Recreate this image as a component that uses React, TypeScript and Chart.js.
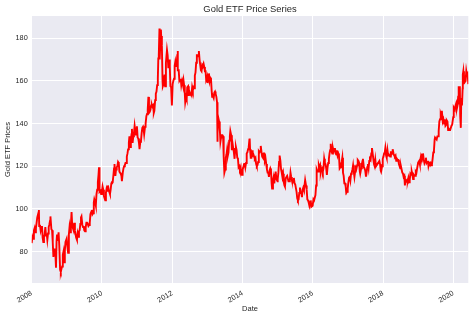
import React, { useEffect, useRef } from "react";
import { Chart, registerables } from "chart.js";

Chart.register(...registerables);

// Gold ETF closing prices (approx. weekly readings), [month-day, price]
const gld2008: [string, number][] = [["01-02",84],["01-10",87],["01-18",86],["01-25",90],["02-01",91],["02-08",89],["02-15",91],["02-22",93.5],["02-29",96],["03-07",96],["03-14",98.5],["03-17",99.5],["03-20",92],["03-28",92.5],["04-04",90],["04-11",91.5],["04-18",92],["04-25",86.5],["05-02",84.5],["05-09",87],["05-16",88],["05-23",91.5],["05-30",87.5],["06-06",88.5],["06-13",85.5],["06-20",88.5],["06-27",91.5],["07-03",92.5],["07-11",94.5],["07-15",96.5],["07-25",90.5],["08-01",90],["08-08",84.5],["08-15",77.5],["08-22",81],["08-29",81.5],["09-05",78.5],["09-11",72.5],["09-17",85],["09-22",88],["09-30",85],["10-08",89],["10-15",83],["10-24",71.5],["10-31",70.5],["11-07",72],["11-14",73],["11-21",78.5],["11-28",80],["12-05",75],["12-12",80.5],["12-19",84.5],["12-31",86]];
const gld2009: [string, number][] = [["01-02",86],["01-09",82],["01-15",79.5],["01-23",88],["01-30",91.5],["02-06",89],["02-13",92.5],["02-20",98.5],["02-27",92],["03-06",92],["03-13",90],["03-19",93.5],["03-27",90],["04-03",88],["04-09",86.5],["04-17",85.5],["04-24",88.5],["05-01",87],["05-08",89.5],["05-15",90],["05-22",93],["05-29",96],["06-03",96.5],["06-12",92.5],["06-19",91.5],["06-26",92],["07-02",90],["07-10",89.5],["07-17",91.5],["07-24",93.5],["07-31",93.5],["08-07",93],["08-14",92],["08-21",92.5],["08-28",93.5],["09-04",97.5],["09-11",98.5],["09-18",99.5],["09-25",97.5],["10-02",98],["10-09",103],["10-14",104.5],["10-23",103],["10-30",101.5],["11-06",107],["11-13",109],["11-20",112.5],["11-27",116],["12-02",119.5],["12-04",113.5],["12-11",108],["12-18",108.5],["12-24",107],["12-31",107.5]];
const gld2010: [string, number][] = [["01-08",110.5],["01-15",109],["01-22",106],["01-29",105],["02-05",104],["02-12",107.5],["02-19",109.5],["02-26",108.5],["03-05",111],["03-12",109],["03-19",108],["03-26",107],["04-02",109],["04-09",112],["04-16",112.5],["04-23",112.5],["04-30",115.5],["05-07",119],["05-12",121],["05-21",115.5],["05-28",118.5],["06-04",119.5],["06-11",120],["06-18",122],["06-25",121.5],["07-02",117.5],["07-09",117],["07-16",116.5],["07-23",115.5],["07-28",113],["08-06",117],["08-13",119],["08-20",120],["08-27",120.5],["09-03",121.5],["09-10",121.5],["09-17",124.5],["09-24",126],["09-30",127.9],["10-08",131],["10-14",134],["10-22",129],["10-29",132.5],["11-05",135],["11-09",137.5],["11-16",131],["11-23",134],["11-30",135.5],["12-07",139],["12-14",136.5],["12-21",134.5],["12-31",138.7]];
const gld2011: [string, number][] = [["01-07",133.5],["01-14",133],["01-21",131],["01-27",128],["02-04",131.5],["02-11",132],["02-18",135.5],["02-25",138],["03-04",138.5],["03-11",137],["03-16",135],["03-25",138.5],["03-31",140],["04-08",143.5],["04-15",144.5],["04-22",146.5],["04-29",152.5],["05-05",145],["05-13",145.5],["05-20",146.5],["05-27",148.5],["06-03",149],["06-10",148],["06-17",148.5],["06-24",145],["06-30",146],["07-08",151],["07-15",154],["07-22",155],["07-29",158],["08-05",161],["08-10",170.5],["08-15",172],["08-22",184.5],["08-24",170],["08-31",177.5],["09-06",184],["09-09",181],["09-16",176.5],["09-23",160],["09-26",157.5],["09-30",158],["10-07",160],["10-14",163],["10-20",157.5],["10-28",168.5],["11-08",174.5],["11-15",172],["11-22",166],["11-30",170],["12-07",167],["12-14",157.5],["12-21",157],["12-29",148.5]];
const gld2012: [string, number][] = [["01-06",158.5],["01-13",160],["01-20",161],["01-27",167],["02-03",169],["02-10",167],["02-17",168],["02-24",172.5],["02-28",174],["02-29",165],["03-09",165],["03-16",160],["03-23",160.5],["03-30",161],["04-05",158],["04-13",160],["04-20",158.5],["04-27",160.5],["05-04",158],["05-11",154.5],["05-16",150],["05-25",152.5],["05-31",151.5],["06-06",157],["06-15",157.5],["06-22",153],["06-29",155],["07-06",154],["07-13",153.5],["07-20",153.5],["07-27",157],["08-03",155.5],["08-10",157],["08-17",156.5],["08-24",162.5],["08-31",164],["09-07",168.5],["09-14",172],["09-21",172],["09-28",171.5],["10-05",174],["10-12",170],["10-19",167.5],["10-26",165],["11-02",164.5],["11-09",167.5],["11-16",167],["11-23",168],["11-30",166.5],["12-07",164.5],["12-14",164.5],["12-20",160.5],["12-31",162]];
const gld2013: [string, number][] = [["01-04",159],["01-11",161],["01-18",163.5],["01-25",160],["02-01",161.5],["02-08",161],["02-15",155.5],["02-20",152.5],["02-28",153],["03-08",152],["03-15",154.5],["03-22",155],["03-28",154],["04-05",152.5],["04-12",150],["04-15",131.5],["04-19",135.5],["04-26",142.5],["05-03",141],["05-10",138],["05-17",131.5],["05-24",133.5],["05-31",134.5],["06-07",134.5],["06-14",134],["06-20",124.5],["06-27",117],["07-05",118.5],["07-12",124],["07-19",125.5],["07-26",128],["08-02",125],["08-09",126.5],["08-16",132],["08-23",134],["08-28",136.5],["09-06",134.5],["09-13",127.5],["09-19",131],["09-27",128.5],["10-04",126.5],["10-11",123.5],["10-18",128],["10-25",129],["11-01",127.5],["11-08",124],["11-15",123.5],["11-22",119.5],["11-29",120],["12-06",118.5],["12-13",119.5],["12-19",116],["12-31",116]];
const gld2014: [string, number][] = [["01-03",118.5],["01-10",119.5],["01-17",121],["01-24",121.5],["01-31",119.5],["02-07",121.5],["02-14",126],["02-21",126.5],["02-28",128],["03-07",129],["03-14",132.5],["03-17",133],["03-21",128],["03-28",124],["04-04",124],["04-11",127.5],["04-17",125],["04-25",125.5],["05-02",124.5],["05-09",123.5],["05-16",124],["05-23",121],["05-30",120],["06-06",120.5],["06-13",122],["06-20",127],["06-27",126.5],["07-03",127],["07-10",129.5],["07-18",126.5],["07-25",124.5],["08-01",124],["08-08",126],["08-15",126],["08-22",122.5],["08-29",123.5],["09-05",121],["09-12",118.5],["09-19",117],["09-26",117],["10-03",115],["10-10",118],["10-17",119],["10-24",118],["10-31",112],["11-05",109.5],["11-14",113.5],["11-21",115],["11-28",112],["12-05",116],["12-12",117.5],["12-19",114],["12-31",113]];
const gld2015: [string, number][] = [["01-02",114],["01-09",117],["01-16",122],["01-22",125],["01-30",122.5],["02-06",118.5],["02-13",117],["02-20",115],["02-27",116.5],["03-06",112.5],["03-13",111],["03-18",110.5],["03-27",114.5],["04-03",115],["04-10",115.5],["04-17",115.5],["04-24",113],["05-01",113],["05-08",113.5],["05-15",117],["05-22",115],["05-29",113.5],["06-05",112.5],["06-12",113.5],["06-19",114.5],["06-26",112],["07-03",111.5],["07-10",111.5],["07-17",108],["07-24",105],["07-31",104],["08-07",104.5],["08-14",107.5],["08-21",110],["08-28",108],["09-04",107.5],["09-11",105.5],["09-18",109],["09-25",110],["10-02",109],["10-09",111.5],["10-14",113.5],["10-23",111],["10-30",109],["11-06",104.5],["11-13",104],["11-20",103],["11-27",101.5],["12-04",103],["12-11",104],["12-17",101],["12-31",101.5]];
const gld2016: [string, number][] = [["01-08",104.5],["01-15",104],["01-22",104],["01-29",106.5],["02-05",111],["02-11",118.5],["02-19",117.5],["02-26",117.5],["03-04",120.5],["03-10",119.5],["03-18",120.5],["03-24",117],["03-31",118.5],["04-08",119],["04-15",117.5],["04-22",119],["04-29",123.5],["05-06",121.5],["05-13",121],["05-20",119],["05-27",116],["06-03",119.5],["06-10",121.5],["06-17",123.5],["06-24",126],["06-30",127.5],["07-06",130.5],["07-15",127],["07-22",126],["07-29",128.5],["08-05",127],["08-12",128],["08-19",128.5],["08-26",126],["09-02",125.5],["09-09",127.5],["09-16",125],["09-23",126],["09-30",125],["10-07",119],["10-14",119.5],["10-21",121],["10-28",122],["11-04",124],["11-11",117],["11-18",115.5],["11-25",112],["12-02",112],["12-09",110.5],["12-15",107.5],["12-23",108],["12-30",109.5]];
const gld2017: [string, number][] = [["01-06",112.5],["01-13",114.5],["01-20",115.5],["01-27",113.5],["02-03",116.5],["02-10",117],["02-17",118.5],["02-24",120.5],["03-03",117.5],["03-10",115],["03-17",117.5],["03-24",119.5],["03-31",119],["04-07",120.5],["04-13",123],["04-21",122.5],["04-28",121.5],["05-05",117.5],["05-09",116.5],["05-19",119],["05-26",121],["06-02",122.5],["06-06",123.5],["06-16",119.5],["06-23",119],["06-30",118],["07-07",115.5],["07-10",115.5],["07-21",119.5],["07-28",121],["08-04",119],["08-11",122.5],["08-18",123.5],["08-25",123],["09-01",126],["09-08",128.5],["09-15",126],["09-22",123.5],["09-29",121],["10-06",120],["10-13",123],["10-20",120],["10-27",120],["11-03",121],["11-10",121.5],["11-17",122],["11-24",122.5],["12-01",121],["12-08",118],["12-12",117.5],["12-22",120],["12-29",123.5]];
const gld2018: [string, number][] = [["01-05",124.5],["01-12",126],["01-19",126.5],["01-25",128.5],["02-02",125],["02-08",124],["02-16",127.5],["02-23",125],["03-02",125.5],["03-09",125],["03-16",124.5],["03-23",127],["03-29",125.5],["04-06",126],["04-11",128],["04-20",126],["04-27",125],["05-04",124.5],["05-11",125],["05-18",122.5],["05-25",123.5],["06-01",123],["06-08",123],["06-15",121],["06-22",120],["06-29",119],["07-06",120],["07-13",118.5],["07-20",117],["07-27",116.5],["08-03",115],["08-10",115.5],["08-16",111],["08-24",113.5],["08-31",113],["09-07",113.5],["09-14",113],["09-21",114.5],["09-28",112.5],["10-05",113.5],["10-12",116.5],["10-19",116],["10-26",117.5],["11-02",116],["11-09",114],["11-16",116],["11-23",115.5],["11-30",115.5],["12-07",117.5],["12-14",117],["12-21",119],["12-31",121.5]];
const gld2019: [string, number][] = [["01-04",122],["01-11",122.5],["01-18",121],["01-25",123.5],["01-31",125],["02-08",124],["02-15",125.5],["02-20",126],["02-28",123],["03-07",121.5],["03-15",122.5],["03-22",124],["03-29",121.5],["04-05",122],["04-12",122.5],["04-18",120],["04-26",121.5],["05-03",121],["05-10",121.5],["05-17",120.5],["05-24",121],["05-31",123.5],["06-07",126.5],["06-14",127.5],["06-21",132.5],["06-25",133.5],["07-03",133.5],["07-12",132.5],["07-19",134],["07-26",134],["08-02",136.5],["08-09",141],["08-16",142],["08-23",144.5],["08-30",143.5],["09-04",146],["09-13",141],["09-20",142],["09-27",140],["10-04",142],["10-11",139],["10-18",139.5],["10-25",141.5],["11-01",141],["11-08",137],["11-15",137.5],["11-22",137],["11-29",137],["12-06",137],["12-13",139],["12-20",139.5],["12-31",143]];
const gld2020: [string, number][] = [["01-03",146],["01-08",147.5],["01-17",146.5],["01-24",148.5],["01-31",149.5],["02-07",147],["02-14",148.5],["02-21",153],["02-24",157.5],["02-28",149],["03-06",157],["03-09",157.5],["03-13",143.5],["03-19",138],["03-24",152],["03-31",148.5],["04-07",156.5],["04-09",163],["04-14",164.5],["04-21",158.5],["04-24",162.5],["04-30",159.5],["05-08",160],["05-15",164.5],["05-18",163.5],["05-22",163],["05-29",163.5],["06-03",160],["06-05",158.5]];

const seriesByYear: [number, [string, number][]][] = [
  [2008, gld2008], [2009, gld2009], [2010, gld2010], [2011, gld2011],
  [2012, gld2012], [2013, gld2013], [2014, gld2014], [2015, gld2015],
  [2016, gld2016], [2017, gld2017], [2018, gld2018], [2019, gld2019],
  [2020, gld2020],
];

const xTickYears = [2008, 2010, 2012, 2014, 2016, 2018, 2020];
const yTickValues = [80, 100, 120, 140, 160, 180];
const yMin = 65.3;
const yMax = 190.4;

const titleText = "Gold ETF Price Series";
const xLabel = "Date";
const yLabel = "Gold ETF Prices";

const FONT = "'Liberation Sans', Arial, 'DejaVu Sans', sans-serif";
const TEXT = "#262626";

function toDecimalYear(year: number, md: string): number {
  const [m, d] = md.split("-").map(Number);
  const start = Date.UTC(year, 0, 1);
  const end = Date.UTC(year + 1, 0, 1);
  return year + (Date.UTC(year, m - 1, d) - start) / (end - start);
}

const points = seriesByYear.flatMap(([yr, rows]) =>
  rows.map(([md, v]) => ({ x: toDecimalYear(yr, md), y: v }))
);

const bgPlugin = {
  id: "bgPlugin",
  beforeDraw(chart: any) {
    const { ctx, chartArea } = chart;
    ctx.save();
    ctx.fillStyle = "#ffffff";
    ctx.fillRect(0, 0, chart.width, chart.height);
    ctx.fillStyle = "#EAEAF2";
    ctx.fillRect(chartArea.left, chartArea.top, chartArea.right - chartArea.left, chartArea.bottom - chartArea.top);
    ctx.restore();
  },
  afterDraw(chart: any) {
    // axes title centred over the plot area, as matplotlib does
    const { ctx, chartArea } = chart;
    ctx.save();
    ctx.fillStyle = TEXT;
    ctx.font = `9.4px ${FONT}`;
    ctx.textAlign = "center";
    ctx.textBaseline = "middle";
    ctx.fillText(titleText, (chartArea.left + chartArea.right) / 2, 9);
    ctx.restore();
  },
};

export default function App() {
  const ref = useRef<HTMLCanvasElement | null>(null);
  useEffect(() => {
    document.body.style.margin = "0";
    const canvas = ref.current;
    if (!canvas) return;
    const chart = new Chart(canvas, {
      type: "line",
      data: {
        datasets: [
          {
            label: "Gold ETF",
            data: points,
            borderColor: "#ff0000",
            borderWidth: 1.9,
            pointRadius: 0,
            tension: 0,
            fill: false,
          },
        ],
      },
      options: {
        animation: false,
        responsive: false,
        devicePixelRatio: 1,
        parsing: false as any,
        layout: { padding: { left: 0, right: 5.7, top: 16, bottom: 0 } },
        plugins: {
          legend: { display: false },
          tooltip: { enabled: false },
          title: { display: false },
        },
        scales: {
          x: {
            type: "linear",
            min: points[0].x,
            max: points[points.length - 1].x,
            afterBuildTicks: (s: any) => {
              s.ticks = xTickYears.map((v) => ({ value: v }));
            },
            afterFit: (s: any) => {
              s.height = 35;
            },
            grid: { color: "#ffffff", lineWidth: 1, drawTicks: false },
            border: { display: false },
            ticks: {
              autoSkip: false,
              minRotation: 30,
              maxRotation: 30,
              padding: 6,
              color: TEXT,
              font: { family: FONT, size: 7.3 },
              callback: (v: any) => String(v),
            },
            title: {
              display: true,
              text: xLabel,
              color: TEXT,
              font: { family: FONT, size: 7.5 },
              padding: { top: 4.5, bottom: 4.5 },
            },
          },
          y: {
            type: "linear",
            min: yMin,
            max: yMax,
            afterBuildTicks: (s: any) => {
              s.ticks = yTickValues.map((v) => ({ value: v }));
            },
            afterFit: (s: any) => {
              s.width = 31.7;
            },
            grid: { color: "#ffffff", lineWidth: 1, drawTicks: false },
            border: { display: false },
            ticks: {
              padding: 4,
              color: TEXT,
              font: { family: FONT, size: 7.3 },
              callback: (v: any) => String(v),
            },
            title: {
              display: true,
              text: yLabel,
              color: TEXT,
              font: { family: FONT, size: 7.5 },
              padding: { top: 3, bottom: 0 },
            },
          },
        },
      },
      plugins: [bgPlugin],
    });
    return () => chart.destroy();
  }, []);
  return (
    <div style={{ position: "fixed", left: 0, top: 0, width: 474, height: 318 }}>
      <canvas ref={ref} width={474} height={318} style={{ display: "block", width: 474, height: 318 }} />
    </div>
  );
}
